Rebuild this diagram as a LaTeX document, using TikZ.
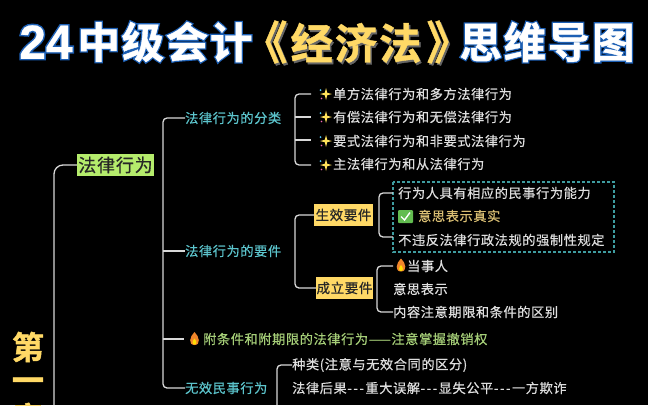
\documentclass[tikz,border=0pt]{standalone}
\usepackage{fontspec}
\setmainfont[LetterSpace=4.5,FakeBold=0.5]{Noto Sans CJK SC}
\newfontfamily\ttlfont[LetterSpace=4,FakeBold=1,BoldFont=*]{Noto Sans CJK SC Bold}
\newfontfamily\halofont[LetterSpace=4,FakeBold=7,BoldFont=*]{Noto Sans CJK SC Bold}
\newfontfamily\digfont[FakeBold=0.5,BoldFont=*]{Liberation Sans Bold}
\newfontfamily\digHalo[FakeBold=7,BoldFont=*]{Liberation Sans Bold}
\newfontfamily\colfont[FakeBold=1.5,BoldFont=*]{Noto Sans CJK SC Bold}
\definecolor{ln}{HTML}{D8D8D8}
\definecolor{txt}{HTML}{DEDEDE}
\definecolor{cy}{HTML}{5CC4CC}
\definecolor{gold}{HTML}{FFD966}
\definecolor{lime}{HTML}{B5EC6C}
\definecolor{dgold}{HTML}{D9BE73}
\definecolor{grn}{HTML}{A6CF78}
\definecolor{ttlblue}{HTML}{1C5FB4}
\definecolor{flame}{HTML}{F0852A}
\definecolor{spark}{HTML}{FFE25A}
\definecolor{check}{HTML}{62BC50}
\definecolor{dashc}{HTML}{3F9DA0}
\newcommand{\hy}{-\kern1.45pt}
\newcommand{\bookttl}{{\fontsize{45.5}{46}\selectfont 《}\kern3pt 经济法\kern5pt{\fontsize{45.5}{46}\selectfont 》}}
\tikzset{
 x=1pt,y=-1pt,
 conn/.style={draw=ln,line width=1.3pt,rounded corners=4pt},
 lab/.style={text=txt,font=\fontsize{13.2}{14}\selectfont,anchor=west,inner sep=0pt},
 cyl/.style={lab,text=cy},
 goldbox/.style={fill=gold,text=black!85,font=\fontsize{13.5}{14}\selectfont,inner sep=0pt,minimum height=22pt},
 limebox/.style={fill=lime,text=black!85,font=\fontsize{18}{19}\selectfont,inner sep=0pt,minimum height=22pt,minimum width=77pt},
 ttl/.style={font=\fontsize{42.5}{43}\selectfont\ttlfont,inner sep=0pt,anchor=center},
 halo/.style={font=\fontsize{42.5}{43}\selectfont\halofont,inner sep=0pt,anchor=center},
 dig/.style={font=\fontsize{48}{49}\selectfont\digfont,inner sep=0pt,anchor=center},
 dighalo/.style={font=\fontsize{48}{49}\selectfont\digHalo,inner sep=0pt,anchor=center},
 colchar/.style={text=gold,font=\fontsize{32}{33}\selectfont\colfont,inner sep=0pt},
}
\newcommand{\sparkat}[1]{%
 \fill[spark] (326,#1-6) -- (327.2,#1-1.2) -- (332,#1) -- (327.2,#1+1.2) -- (326,#1+6) -- (324.8,#1+1.2) -- (320,#1) -- (324.8,#1-1.2) -- cycle;
 \fill[cyan!70!white] (320.5,#1-4) circle (1);
 \fill[magenta!60!white] (321.5,#1+4.5) circle (0.9);
}
\newcommand{\flameat}[2]{%
 \fill[flame] (#1,#2+6.5) .. controls (#1-6.5,#2+6.5) and (#1-5,#2-2) .. (#1,#2-6.5) .. controls (#1+5,#2-2) and (#1+6.5,#2+6.5) .. (#1,#2+6.5) -- cycle;
 \fill[yellow!80!orange] (#1,#2+6) .. controls (#1-3,#2+6) and (#1-2,#2+2) .. (#1,#2) .. controls (#1+2,#2+2) and (#1+3,#2+6) .. (#1,#2+6) -- cycle;
}
\begin{document}
\begin{tikzpicture}
\useasboundingbox[fill=black] (0,0) rectangle (648,405);
% title
\node[dighalo,text=ttlblue] (h1) at (46,42) {24};
\node[halo,text=ttlblue] (h2) at (165,42) {中级会计};
\node[halo,text=ttlblue] (h4) at (547,42) {思维导图};
\node[ttl,text=black!60] (s3) at (358.5,44) {\bookttl};
\node[dig,text=white] (t1) at (46,42) {24};
\node[ttl,text=white] (t2) at (165,42) {中级会计};
\node[ttl,text=gold] (t3) at (357,42) {\bookttl};
\node[ttl,text=white] (t4) at (547,42) {思维导图};
% left column
\node[colchar] (c1) at (28,347) {第};
\node[colchar] (c2) at (28,385) {一};
\node[colchar] (c3) at (28,418) {章};
% nodes
\node[limebox] (fl) at (115.5,165) {法律行为};
\node[cyl] (a1) at (185,118) {法律行为的分类};
\node[cyl] (a2) at (185,251) {法律行为的要件};
\node[lab,text=grn] (a3) at (203,339) {附条件和附期限的法律行为——注意掌握撤销权};
\node[cyl] (a4) at (185,388) {无效民事行为};
\node[lab] (b1) at (333,94) {单方法律行为和多方法律行为};
\node[lab] (b2) at (333,117) {有偿法律行为和无偿法律行为};
\node[lab] (b3) at (333,141) {要式法律行为和非要式法律行为};
\node[lab] (b4) at (333,164) {主法律行为和从法律行为};
\node[goldbox,minimum width=59pt] (g1) at (343.5,215) {生效要件};
\node[goldbox,minimum width=57pt] (g2) at (344.5,288) {成立要件};
\node[lab] (c11) at (398,193) {行为人具有相应的民事行为能力};
\node[lab,text=dgold] (c12) at (418,216) {意思表示真实};
\node[lab] (c13) at (398,240) {不违反法律行政法规的强制性规定};
\node[lab] (c21) at (407,266) {当事人};
\node[lab] (c22) at (393,289) {意思表示};
\node[lab] (c23) at (393,312) {内容注意期限和条件的区别};
\node[lab] (d1) at (292,365) {种类(注意与无效合同的区分)};
\node[lab] (d2) at (292,388) {法律后果\hy\hy\hy 重大误解\hy\hy\hy 显失公平\hy\hy\hy 一方欺诈};
% icons
\sparkat{94}\sparkat{117}\sparkat{141}\sparkat{165}
\flameat{401}{265}
\flameat{194.5}{338.5}
\fill[check,rounded corners=1pt] (398,210) rectangle (413,223);
\draw[white,line width=1.4pt] (401,216.5) -- (404.5,220) -- (410,212.5);
\draw[dashc,line width=1.1pt,dash pattern=on 3pt off 2pt] (393,182) rectangle (614,252);
% connectors
\coordinate (m0) at (54,405);
\draw[conn,rounded corners=9pt] (fl.west) -| (m0);
\draw[conn] (a1.west) -- (163,118) -- (163,388) -- (a4.west);
\draw[conn] (163,251) -- (a2.west);
\coordinate (a3s) at (184,339);
\draw[conn] (163,339) -- (a3s);
\coordinate (e1) at (311,94) ; \coordinate (e2) at (311,117);
\coordinate (e3) at (311,140); \coordinate (e4) at (311,165);
\draw[conn] (e1) -- (295,94) -- (295,165) -- (e4);
\draw[conn] (295,117) -- (e2);
\draw[conn] (295,140) -- (e3);
\draw[conn] (g1.west) -- (295,215) -- (295,288) -- (g2.west);
\draw[conn] (c11.west) ++(-5,0) coordinate (f1) -- (379,193) -- (379,237) -- (393,237);
\draw[conn] (393,266) -- (377,266) -- (377,312) -- (c23.west);
\coordinate (d0) at (277,405);
\draw[conn] (d1.west) -- (277,365) -- (d0);
\end{tikzpicture}
\end{document}
